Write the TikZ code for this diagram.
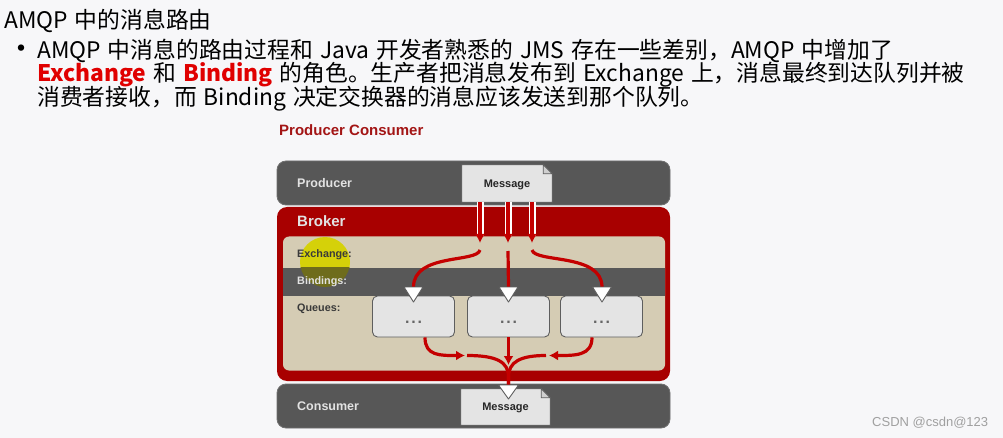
\documentclass[tikz,border=0pt]{standalone}
\usepackage{fontspec}
\setmainfont{Liberation Sans}
\newfontfamily\cjk{Noto Sans CJK SC}
\usetikzlibrary{arrows.meta,calc}
\definecolor{bgc}{HTML}{F7F7F9}
\definecolor{darkbar}{HTML}{575757}
\definecolor{brokerred}{HTML}{A80000}
\definecolor{beige}{HTML}{D5CCB4}
\definecolor{bandc}{HTML}{585858}
\definecolor{ared}{HTML}{C40000}
\definecolor{titlered}{HTML}{A31515}
\definecolor{wred}{HTML}{E00000}
\definecolor{boxfill}{HTML}{E4E4E4}
\definecolor{boxline}{HTML}{5E5E5E}
\definecolor{foldc}{HTML}{CFCFCF}
\definecolor{lightlbl}{HTML}{E2E2E2}
\definecolor{darklbl}{HTML}{3A3A3A}
\definecolor{yel}{HTML}{D6D200}
\definecolor{olivec}{HTML}{6E6C1C}
\definecolor{wm}{HTML}{A0A0A0}
\begin{document}
\begin{tikzpicture}[x=1pt,y=-1pt,
  cjkline/.style={anchor=west,inner sep=0pt,font=\cjk\fontsize{22.8}{26}\selectfont,text=black,execute at begin node={\spaceskip=7pt\relax}},
  bar/.style={fill=darkbar,draw=darkbar!85!white,line width=0.8pt,rounded corners=9pt,minimum width=393pt,minimum height=44pt,inner sep=0pt},
  lbl/.style={anchor=west,inner sep=0pt,font=\bfseries\fontsize{12.5}{14}\selectfont,text=lightlbl},
  slbl/.style={anchor=west,inner sep=0pt,font=\bfseries\fontsize{10.8}{12}\selectfont,text=darklbl},
  msgshape/.style={minimum width=90pt,minimum height=37pt,inner sep=0pt},
  msgtext/.style={inner sep=0pt,font=\bfseries\fontsize{11}{12}\selectfont,text=black!85},
  qbox/.style={fill=boxfill,draw=boxline,line width=0.9pt,rounded corners=5pt,minimum width=82pt,minimum height=41pt,inner sep=0pt},
  dots/.style={inner sep=0pt,font=\bfseries\fontsize{16}{17}\selectfont,text=black!60},
  redln/.style={draw=ared,line width=3.2pt},
  rarrow/.style={redln,-{Latex[length=9pt,width=10pt]}},
  underlay/.style={draw=white,line width=7pt},
  tri/.style={fill=white,draw=boxline,line width=0.9pt,line join=round}
]
\fill[bgc] (0,0) rectangle (1003,438);
\useasboundingbox (0,0) rectangle (1003,438);

% ---------- text ----------
\node[cjkline] (title) at (4,21) {AMQP 中的消息路由};
\node[cjkline,font=\cjk\fontsize{30}{30}\selectfont] (bullet) at (6,52) {•};
\node[cjkline] (l1) at (37,51) {AMQP 中消息的路由过程和 Java 开发者熟悉的 JMS 存在一些差别，AMQP 中增加了};
\node[cjkline] (l2) at (37,75) {\textcolor{wred}{\bfseries Exchange} 和 \textcolor{wred}{\bfseries Binding} 的角色。生产者把消息发布到 Exchange 上，消息最终到达队列并被};
\node[cjkline] (l3) at (37,99) {消费者接收，而 Binding 决定交换器的消息应该发送到那个队列。};

\node[anchor=west,inner sep=0pt,font=\bfseries\fontsize{15}{17}\selectfont,text=titlered] (pc) at (279,130) {Producer Consumer};

% ---------- producer ----------
\node[bar] (prod) at (473.5,183) {};
\node[lbl] (prodl) at (297,183) {Producer};

% ---------- broker ----------
\node[fill=brokerred,rounded corners=10pt,minimum width=393pt,minimum height=174pt,inner sep=0pt] (broker) at (473.5,294) {};
\node[fill=beige,rounded corners=6pt,minimum width=382pt,minimum height=134pt,inner sep=0pt] (inner) at (474,303.5) {};
\node[anchor=west,inner sep=0pt,font=\bfseries\fontsize{15}{17}\selectfont,text=lightlbl] (brokl) at (297,221) {Broker};

% yellow highlight
\fill[yel,opacity=0.95] (325,262) circle (25pt);
\node[fill=bandc,minimum width=382pt,minimum height=28pt,inner sep=0pt] (band) at (474,282) {};
\begin{scope}
  \clip (band.north west) rectangle (band.south east);
  \fill[olivec] (325,262) circle (25pt);
\end{scope}

\node[slbl] (exl) at (297,255) {Exchange:};
\node[slbl,text=lightlbl] (bil) at (297,282) {Bindings:};
\node[slbl] (qul) at (297,309) {Queues:};

% ---------- queues ----------
\node[qbox] (q1) at (413.5,316.5) {};
\node[qbox] (q2) at (508.5,316.5) {};
\node[qbox] (q3) at (601.5,316.5) {};
\node[dots] (d1) at (413.5,322) {.\hspace{1.8pt}.\hspace{1.8pt}.};
\node[dots] (d2) at (508.5,322) {.\hspace{1.8pt}.\hspace{1.8pt}.};
\node[dots] (d3) at (601.5,322) {.\hspace{1.8pt}.\hspace{1.8pt}.};

% ---------- consumer ----------
\node[bar] (cons) at (473.5,406) {};
\node[lbl] (consl) at (297,406) {Consumer};

% ---------- messages ----------
\node[msgshape] (msg1) at (507,183.5) {};
\filldraw[fill=boxfill,draw=boxline,line width=0.8pt]
  (msg1.south west) -- (msg1.north west) -- ([xshift=-9pt]msg1.north east)
  -- ([yshift=-9pt]msg1.north east) -- (msg1.south east) -- cycle;
\filldraw[fill=foldc,draw=boxline,line width=0.8pt]
  ([xshift=-9pt]msg1.north east) -- ([xshift=-9pt,yshift=-9pt]msg1.north east)
  -- ([yshift=-9pt]msg1.north east) -- cycle;
\node[msgtext] (msg1t) at ([yshift=-1pt]msg1) {Message};

\node[msgshape,minimum width=89pt,minimum height=36pt] (msg2) at (505.5,407) {};
\filldraw[fill=boxfill,draw=boxline,line width=0.8pt]
  (msg2.south west) -- (msg2.north west) -- ([xshift=-9pt]msg2.north east)
  -- ([yshift=-9pt]msg2.north east) -- (msg2.south east) -- cycle;
\filldraw[fill=foldc,draw=boxline,line width=0.8pt]
  ([xshift=-9pt]msg2.north east) -- ([xshift=-9pt,yshift=-9pt]msg2.north east)
  -- ([yshift=-9pt]msg2.north east) -- cycle;
\node[msgtext] (msg2t) at ([yshift=-1pt]msg2) {Message};

% ---------- coordinates ----------
\coordinate (e1) at (480,243);
\coordinate (e2) at (508,243);
\coordinate (e3) at (532,243);
\coordinate (s1) at (480,250);
\coordinate (s2) at (508,251);
\coordinate (s3) at (532,250);
\coordinate (t1) at (413.5,287);
\coordinate (t2) at (508.5,287);
\coordinate (t3) at (602,287);
\coordinate (m1) at (465,355.5);
\coordinate (m2) at (508.5,365);
\coordinate (m3) at (549,355.5);
\coordinate (n1) at (467,355.5);
\coordinate (n3) at (546,355.5);
\coordinate (tb) at (508.5,385);

% ---------- arrows: producer -> exchange ----------
\draw[underlay] ([xshift=-27pt]msg1.south) -- ++(0,34);
\draw[underlay] ([xshift=1pt]msg1.south) -- ++(0,34);
\draw[underlay] ([xshift=25pt]msg1.south) -- ++(0,34);
\draw[rarrow] ([xshift=-27pt]msg1.south) -- (e1);
\draw[rarrow] ([xshift=1pt]msg1.south) -- (e2);
\draw[rarrow] ([xshift=25pt]msg1.south) -- (e3);

% exchange -> queues
\draw[redln] (s1) .. controls (477,263) and (413.5,253) .. (t1);
\draw[redln] (s2) -- (t2);
\draw[redln] (s3) .. controls (535,263) and (602,253) .. (t3);

% queues -> consumer
\draw[rarrow] ([xshift=11.5pt]q1.south) .. controls (425,356) and (440,355.5) .. (m1);
\draw[rarrow] (q2.south) -- (m2);
\draw[rarrow] ([xshift=-9.5pt]q3.south) .. controls (592,356) and (575,355.5) .. (m3);
\draw[redln] (n1) .. controls (497,355.5) and (508.5,362) .. (508.5,377) -- (tb);
\draw[redln] (n3) .. controls (520,355.5) and (508.5,362) .. (508.5,377) -- (tb);

% ---------- white triangles ----------
\foreach \t in {t1,t2,t3}{
  \filldraw[tri] ([xshift=-9.5pt]\t) -- ([xshift=9.5pt]\t) -- ([yshift=-15pt]\t) -- cycle;
}
\filldraw[tri] ([xshift=-10pt]tb) -- ([xshift=10pt]tb) -- ([yshift=-14pt]tb) -- cycle;

% watermark
\node[anchor=west,inner sep=0pt,font=\fontsize{13}{15}\selectfont,text=wm] (wmk) at (872,423) {CSDN @csdn@123};
\end{tikzpicture}
\end{document}
